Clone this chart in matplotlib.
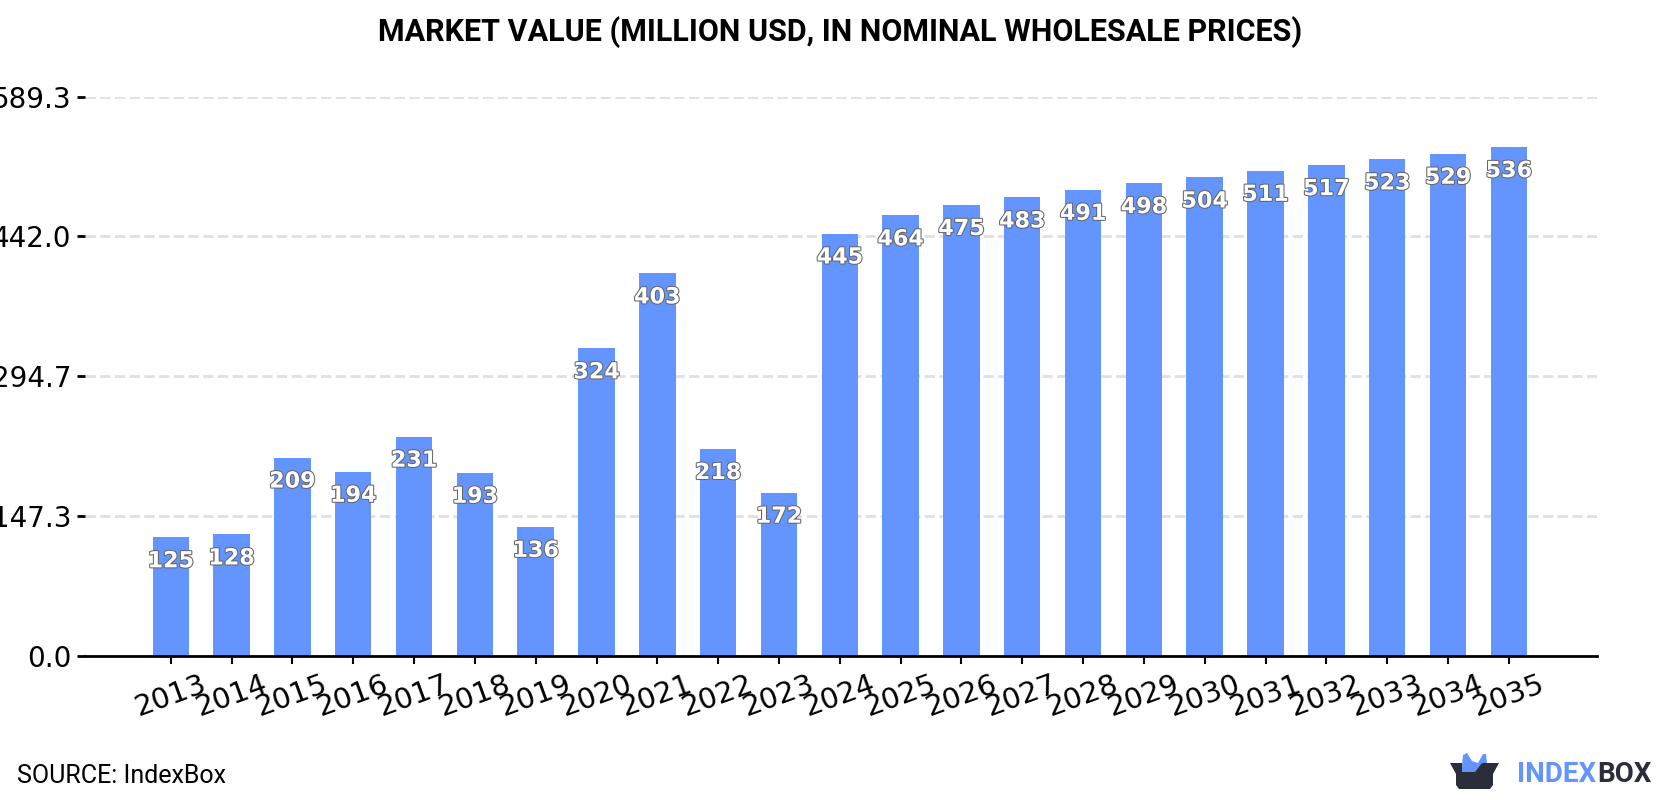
import matplotlib
matplotlib.use('Agg')
import matplotlib.pyplot as plt
import matplotlib.patheffects as pe
from matplotlib.patches import Polygon

years = list(range(2013, 2036))
values = [125, 128, 209, 194, 231, 193, 136, 324, 403, 218, 172, 445,
          464, 475, 483, 491, 498, 504, 511, 517, 523, 529, 536]
y_ticks = [0.0, 147.3, 294.7, 442.0, 589.3]

BLUE = '#6495ff'
DARK = '#2b2d3a'

fig = plt.figure(figsize=(16.8, 8), dpi=100)
ax = fig.add_axes([85 / 1680, 1 - 656 / 800, (1597 - 85) / 1680, (656 - 96.5) / 800])

ax.bar(range(len(years)), values, width=0.6, color=BLUE, zorder=2)

# value labels sit just under the top of each bar
for i, v in enumerate(values):
    ax.annotate(str(v), (i, v), xytext=(0, -24), textcoords='offset pixels',
                ha='center', va='center', fontsize=16, fontweight='bold',
                color='white', zorder=3,
                path_effects=[pe.withStroke(linewidth=1.5, foreground='#666666')])

ax.set_xlim(-1.41, 23.45)
ax.set_ylim(0, 589.3)
ax.set_xticks(range(len(years)))
ax.set_xticklabels(years, rotation=20, fontsize=21)
ax.set_yticks(y_ticks)
ax.set_yticklabels(['%.1f' % t for t in y_ticks], fontsize=20)
ax.tick_params(axis='y', length=6, width=2, pad=4)
ax.tick_params(axis='x', length=6, width=1.5, pad=4)
ax.grid(axis='y', color='#e0e0e0', linestyle='--', linewidth=2, zorder=0)
ax.set_axisbelow(True)
for side in ['top', 'right', 'left']:
    ax.spines[side].set_visible(False)
ax.spines['bottom'].set_linewidth(2)
ax.spines['bottom'].set_zorder(4)

fig.text(0.5, 1 - 32 / 800, 'MARKET VALUE (MILLION USD, IN NOMINAL WHOLESALE PRICES)',
         ha='center', va='center', fontsize=22, fontweight='bold', family='Roboto')
fig.text(17 / 1680, 1 - 776 / 800, 'SOURCE: IndexBox', ha='left', va='center',
         fontsize=18, family='Roboto')


def logo_xy(x, y):
    return (x / 1680, 1 - y / 800)


# box logo, bottom right corner
crown = [(1461, 775), (1463, 755), (1467, 753), (1472, 761), (1478, 763),
         (1483, 754), (1486, 754), (1488, 772)]
fig.add_artist(Polygon([logo_xy(*p) for p in crown], closed=True, color=BLUE,
                       transform=fig.transFigure, lw=0))
box = [(1450, 763), (1462, 763), (1462, 772), (1475, 772), (1482, 763), (1499, 763),
       (1493, 774), (1493, 785), (1490, 789), (1459, 789), (1456, 785), (1456, 774)]
fig.add_artist(Polygon([logo_xy(*p) for p in box], closed=True, color=DARK,
                       transform=fig.transFigure, lw=0))
fig.text(1517 / 1680, 1 - 774 / 800, 'INDEX', ha='left', va='center', fontsize=20,
         fontweight='bold', family='Roboto', color=BLUE)
fig.text(1597 / 1680, 1 - 774 / 800, 'BOX', ha='left', va='center', fontsize=20,
         fontweight='bold', family='Roboto', color=DARK)

fig.savefig('out.png', dpi=100)
